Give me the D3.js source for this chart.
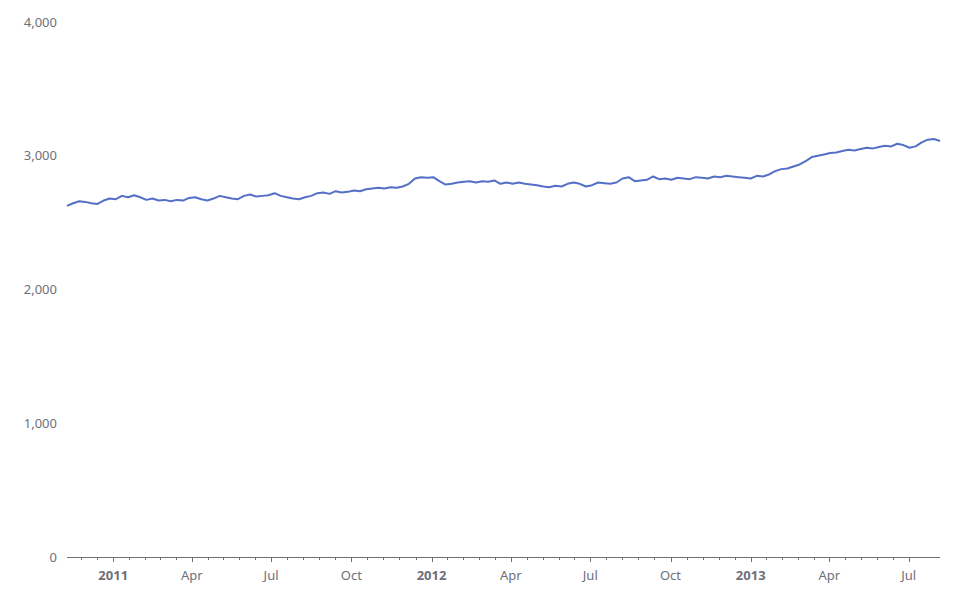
<html>
<head>
<script src="https://d3js.org/d3.v7.min.js"></script>
<style>
body { margin: 0; background: #fff; font-family: "Microsoft YaHei", "Noto Sans", sans-serif; }
</style>
</head>
<body>
<svg id="chart" width="972" height="610"></svg>
<script>
// weekly values, starting 2010-11-09
var startDate = new Date(2010, 10, 9);
var values = [
  2625, 2645, 2660, 2655, 2645, 2640, 2665, 2680,
  2675, 2700, 2690, 2705, 2690, 2670, 2680, 2665, 2670, 2660, 2670, 2665, 2685, 2690,
  2675, 2665, 2680, 2700, 2690, 2680, 2675, 2700, 2710, 2695, 2700, 2705, 2720,
  2700, 2690, 2680, 2675, 2690, 2700, 2720, 2725, 2715, 2735, 2725, 2730, 2740,
  2735, 2750, 2755, 2760, 2755, 2765, 2760, 2770, 2790, 2830, 2840, 2835, 2840,
  2810, 2785, 2790, 2800, 2805, 2810, 2800, 2810, 2805, 2815, 2790, 2800, 2790,
  2800, 2790, 2785, 2780, 2770, 2765, 2775, 2770, 2790, 2800, 2790, 2770, 2780,
  2800, 2795, 2790, 2800, 2830, 2840, 2810, 2815, 2820, 2845, 2825, 2830, 2820,
  2835, 2830, 2825, 2840, 2835, 2830, 2845, 2840, 2850, 2845, 2840, 2835, 2830,
  2850, 2845, 2860, 2885, 2900, 2905, 2920, 2935, 2960, 2990, 3000, 3010, 3020,
  3025, 3035, 3045, 3040, 3050, 3060, 3055, 3065, 3075, 3070, 3090, 3080, 3060,
  3070, 3100, 3120, 3125, 3110
];
var yTicks = [0, 1000, 2000, 3000, 4000];

var data = values.map(function(v, i) {
  return { date: d3.timeDay.offset(startDate, i * 7), value: v };
});

var svg = d3.select("#chart");
var padL = 67, padR = 940, padT = 22, padB = 557;

var x = d3.scaleTime()
  .domain([startDate, new Date(2013, 7, 6)])
  .range([padL, padR]);
var y = d3.scaleLinear().domain([0, 4000]).range([padB, padT]);

var axisColor = "#6E7079";

// y labels
svg.selectAll(".ylab").data(yTicks).enter().append("text")
  .attr("x", padL - 10).attr("y", function(d) { return y(d); })
  .attr("dy", "0.35em").attr("text-anchor", "end")
  .attr("font-size", 13).attr("fill", axisColor)
  .text(d3.format(","));

// x axis line
svg.append("line").attr("x1", padL).attr("x2", padR)
  .attr("y1", padB + 0.5).attr("y2", padB + 0.5)
  .attr("stroke", axisColor);

// major ticks quarterly, minor ticks 5 per quarter
var majors = d3.timeMonth.every(3).range(new Date(2010, 9, 1), new Date(2013, 9, 1));
var minors = [];
for (var i = 0; i < majors.length - 1; i++) {
  var a = majors[i].getTime(), b = majors[i + 1].getTime();
  for (var k = 1; k < 5; k++) minors.push(new Date(a + (b - a) * k / 5));
}
var dom = x.domain();
var inDom = function(d) { return d >= dom[0] && d <= dom[1]; };

svg.selectAll(".mt").data(minors.filter(inDom)).enter().append("line")
  .attr("x1", function(d) { return Math.round(x(d)) + 0.5; })
  .attr("x2", function(d) { return Math.round(x(d)) + 0.5; })
  .attr("y1", padB).attr("y2", padB + 3)
  .attr("stroke", axisColor);

var majIn = majors.filter(inDom);
svg.selectAll(".Mt").data(majIn).enter().append("line")
  .attr("x1", function(d) { return Math.round(x(d)) + 0.5; })
  .attr("x2", function(d) { return Math.round(x(d)) + 0.5; })
  .attr("y1", padB).attr("y2", padB + 5)
  .attr("stroke", axisColor);

svg.selectAll(".xlab").data(majIn).enter().append("text")
  .attr("x", function(d) { return x(d); }).attr("y", padB + 23)
  .attr("text-anchor", "middle").attr("font-size", 13)
  .attr("fill", axisColor)
  .attr("font-weight", function(d) { return d.getMonth() === 0 ? "bold" : "normal"; })
  .text(function(d) { return d.getMonth() === 0 ? d3.timeFormat("%Y")(d) : d3.timeFormat("%b")(d); });

var line = d3.line()
  .x(function(d) { return x(d.date); })
  .y(function(d) { return y(d.value); });

svg.append("path").datum(data)
  .attr("d", line).attr("fill", "none")
  .attr("stroke", "#5470c6").attr("stroke-width", 2)
  .attr("stroke-linejoin", "round");
</script>
</body>
</html>
